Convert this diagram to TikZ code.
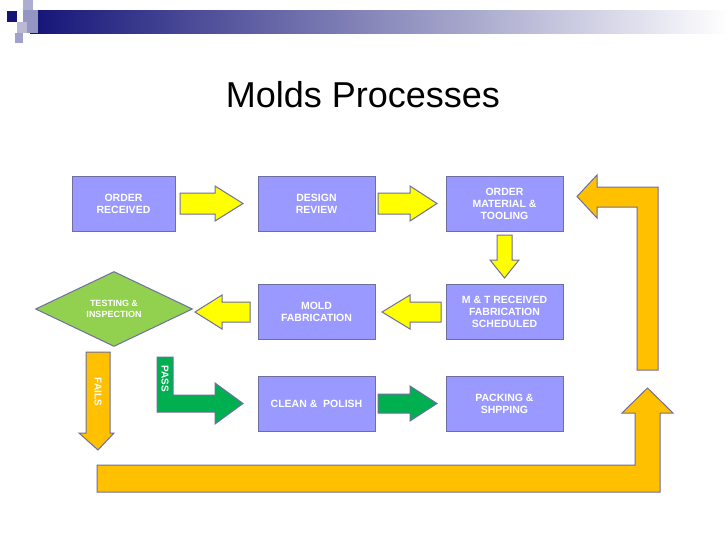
\documentclass[tikz,border=0pt]{standalone}
\usepackage{fontspec}
\setmainfont{Liberation Sans}
\usetikzlibrary{shapes.geometric}
\definecolor{boxc}{RGB}{153,153,255}
\definecolor{edge}{RGB}{110,110,160}
\definecolor{yel}{RGB}{255,255,0}
\definecolor{org}{RGB}{255,192,0}
\definecolor{grn}{RGB}{0,176,80}
\definecolor{lgrn}{RGB}{146,208,80}
\definecolor{navy}{RGB}{20,20,120}
\begin{document}
\begin{tikzpicture}[x=1pt,y=-1pt,
 box/.style={fill=boxc,draw=edge,line width=1pt,minimum width=117pt,minimum height=55pt,
  font=\bfseries\fontsize{10.5}{12}\selectfont,text=white,align=center,inner sep=0pt},
 arr/.style={draw=edge,line width=1pt,line join=miter}]
\useasboundingbox (0,0) rectangle (728,546);
\fill[white] (0,0) rectangle (728,546);
% header
\shade[left color=navy,right color=white] (30,10) rectangle (728,33);
\fill[navy] (7,11) rectangle (17,22);
\fill[navy!35] (23,0) rectangle (33,10);
\fill[navy!45] (23,10) rectangle (38,33);
\fill[navy!30] (17,22) rectangle (27,33);
\fill[navy!40] (15,33) rectangle (23,43);
\node (title) at (363,95) {\fontsize{36}{40}\selectfont Molds Processes};
% boxes
\node[box,minimum width=103pt] (r) at (123.5,203.5) {ORDER\\RECEIVED};
\node[box] (d) at (316.5,203.5) {DESIGN\\REVIEW};
\node[box] (m) at (504.5,203.5) {ORDER\\MATERIAL \&\\TOOLING};
\node[box] (t) at (504.5,312) {M \& T RECEIVED\\FABRICATION\\SCHEDULED};
\node[box] (f) at (316.5,312) {MOLD\\FABRICATION};
\node[box] (c) at (316.5,403.5) {CLEAN \& \ POLISH};
\node[box] (p) at (504.5,403.5) {PACKING \&\\SHPPING};
\node[diamond,aspect=2.1,fill=lgrn,draw=edge,line width=1pt,minimum width=157pt,minimum height=75pt,inner sep=0pt,
 font=\bfseries\fontsize{9}{11}\selectfont,text=white,align=center] (x) at (114,309) {TESTING \&\\INSPECTION};
% yellow right arrows
\draw[arr,fill=yel] (180,193)--(215,193)--(215,186)--(243,203.5)--(215,221)--(215,214)--(180,214)--cycle;
\draw[arr,fill=yel] (378,193)--(410,193)--(410,186)--(437,203.5)--(410,221)--(410,214)--(378,214)--cycle;
% down
\draw[arr,fill=yel] (497,235)--(512,235)--(512,260)--(519,260)--(504.5,278)--(490,260)--(497,260)--cycle;
% left arrows
\draw[arr,fill=yel] (441,302)--(410,302)--(410,295)--(382,312)--(410,329)--(410,322)--(441,322)--cycle;
\draw[arr,fill=yel] (250,302)--(222,302)--(222,295)--(195,312)--(222,329)--(222,322)--(250,322)--cycle;
% green right arrow
\draw[arr,fill=grn] (378,394)--(410,394)--(410,386)--(437,403.5)--(410,421)--(410,413)--(378,413)--cycle;
% fails
\draw[arr,fill=org] (86,352)--(110,352)--(110,433)--(114,433)--(98,450)--(79,433)--(86,433)--cycle;
\node[rotate=-90,font=\bfseries\fontsize{10}{11}\selectfont,text=white] (fl) at (98,392) {FAILS};
% pass
\draw[arr,fill=grn] (157,357)--(173,357)--(173,395)--(215,395)--(215,383)--(243,403.5)--(215,424)--(215,412)--(157,412)--cycle;
\node[rotate=-90,font=\bfseries\fontsize{10}{11}\selectfont,text=white] (ps) at (165,379) {PASS};
% big U
\draw[arr,fill=org] (97,465)--(635,465)--(635,413)--(622,413)--(647.5,388)--(673,413)--(660,413)--(660,492)--(97,492)--cycle;
\draw[arr,fill=org] (637,370)--(658,370)--(658,187)--(597,187)--(597,175)--(577,196.5)--(597,218)--(597,207)--(637,207)--cycle;
\end{tikzpicture}
\end{document}
